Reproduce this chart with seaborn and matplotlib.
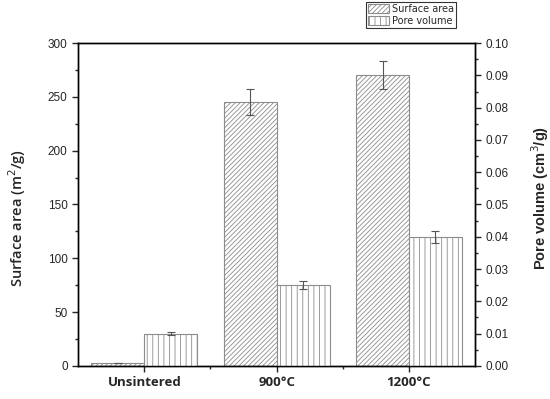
import numpy as np
import pandas as pd
import matplotlib.pyplot as plt
import seaborn as sns
from matplotlib.patches import Patch
from matplotlib.ticker import MultipleLocator, FormatStrFormatter

# Datos
categories = ['Unsintered', '900°C', '1200°C']
surface_area = [3, 245, 270]
surface_err = [0, 12, 13]
pore_volume = [0.010, 0.025, 0.040]
pore_err = [0.0005, 0.0013, 0.0018]
series = ['Surface area', 'Pore volume']

sns.set_style('ticks')
plt.rcParams['hatch.color'] = '#8c8c8c'
plt.rcParams['hatch.linewidth'] = 0.6

# tabla larga: cada eje dibuja solo su serie, la otra queda en NaN
n = len(categories)
df_sa = pd.DataFrame({'cat': categories * 2, 'serie': [series[0]] * n + [series[1]] * n,
                      'val': surface_area + [np.nan] * n})
df_pv = pd.DataFrame({'cat': categories * 2, 'serie': [series[0]] * n + [series[1]] * n,
                      'val': [np.nan] * n + pore_volume})
pal = {series[0]: 'white', series[1]: 'white'}

fig = plt.figure(figsize=(5.5, 3.99), dpi=100)
ax = fig.add_axes([0.142, 0.083, 0.722, 0.809])
ax2 = ax.twinx()

sns.barplot(data=df_sa, x='cat', y='val', hue='serie', hue_order=series, order=categories,
            width=0.8, palette=pal, edgecolor='#8c8c8c', linewidth=0.8, hatch='///////',
            errorbar=None, legend=False, ax=ax)
sns.barplot(data=df_pv, x='cat', y='val', hue='serie', hue_order=series, order=categories,
            width=0.8, palette=pal, edgecolor='#8c8c8c', linewidth=0.8, hatch='|||',
            errorbar=None, legend=False, ax=ax2)

# barras de error en el centro de cada barra
bars_sa = sorted([p for p in ax.patches if p.get_height() > 0], key=lambda p: p.get_x())
bars_pv = sorted([p for p in ax2.patches if p.get_height() > 0], key=lambda p: p.get_x())
ax.errorbar([p.get_x() + p.get_width() / 2 for p in bars_sa], surface_area, yerr=surface_err,
            fmt='none', ecolor='#555555', elinewidth=0.8, capsize=3, capthick=0.8)
ax2.errorbar([p.get_x() + p.get_width() / 2 for p in bars_pv], pore_volume, yerr=pore_err,
             fmt='none', ecolor='#555555', elinewidth=0.8, capsize=3, capthick=0.8)

ax.set_xlim(-0.5, 2.5)
ax.yaxis.set_major_locator(MultipleLocator(50))
ax.yaxis.set_minor_locator(MultipleLocator(25))
ax2.yaxis.set_major_locator(MultipleLocator(0.01))
ax2.yaxis.set_minor_locator(MultipleLocator(0.005))
ax2.yaxis.set_major_formatter(FormatStrFormatter('%.2f'))
ax.set_ylim(0, 300)
ax2.set_ylim(0, 0.10)
ax.set_xticks([0, 1, 2])
ax.set_xticks([0.5, 1.5], minor=True)

for a in (ax, ax2):
    for s in a.spines.values():
        s.set_linewidth(1.0)
        s.set_color('black')
ax.tick_params(axis='both', which='major', length=4, width=1, direction='out')
ax.tick_params(axis='both', which='minor', length=2.5, width=1, direction='out')
ax2.tick_params(axis='y', which='major', length=4, width=1, direction='out')
ax2.tick_params(axis='y', which='minor', length=2.5, width=1, direction='out')

ax.set_xticklabels(categories, fontdict={'family': 'Open Sans', 'weight': 'bold', 'size': 9.5})
for t in ax.get_yticklabels() + ax2.get_yticklabels():
    t.set_family('Liberation Sans')
    t.set_fontsize(8.5)

ax.set_xlabel('')
ax.set_ylabel('Surface area (m$^2$/g)', family='Open Sans', fontsize=10.5, fontweight='semibold', labelpad=14)
ax2.set_ylabel('Pore volume (cm$^3$/g)', family='Liberation Sans', fontsize=10.5, fontweight='bold', labelpad=15)
ax.yaxis.label.set_y(0.458)
ax2.yaxis.label.set_y(0.52)

handles = [Patch(facecolor='white', edgecolor='#8c8c8c', hatch='///////', linewidth=0.8),
           Patch(facecolor='white', edgecolor='#8c8c8c', hatch='|||', linewidth=0.8)]
leg = fig.legend(handles, series, loc='upper left', bbox_to_anchor=(0.665, 0.995),
                 fontsize=7, frameon=True, fancybox=False, edgecolor='black',
                 handlelength=2.2, handleheight=1.1, handletextpad=0.3, borderpad=0.2,
                 labelspacing=0.2, borderaxespad=0)
leg.get_frame().set_linewidth(0.8)

fig.savefig('out.png', dpi=100)
